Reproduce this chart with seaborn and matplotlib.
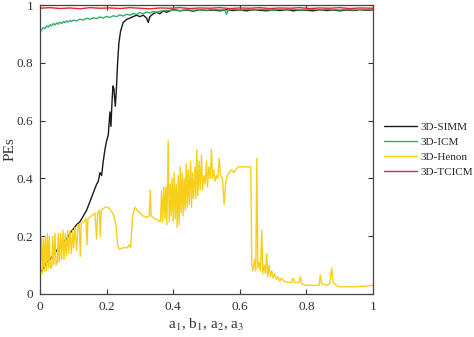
import matplotlib
matplotlib.use("Agg")
import matplotlib.pyplot as plt
import numpy as np
import pandas as pd
import seaborn as sns

# ---- data -------------------------------------------------------------
simm_x = [0.005, 0.01, 0.02, 0.03, 0.04, 0.05, 0.06, 0.065, 0.07, 0.08, 0.09,
          0.10, 0.11, 0.12, 0.13, 0.14, 0.15, 0.16, 0.17, 0.175, 0.18, 0.185,
          0.19, 0.195, 0.20, 0.205, 0.21, 0.213, 0.216, 0.219, 0.222, 0.226,
          0.229, 0.233, 0.237, 0.242, 0.25, 0.26, 0.27, 0.28, 0.29, 0.30, 0.31,
          0.32, 0.325, 0.33, 0.34, 0.35, 0.36, 0.37, 0.38, 0.40, 0.42, 0.44,
          0.46, 0.48, 0.50, 0.52, 0.54, 0.56, 0.58, 0.60, 0.62, 0.64, 0.66,
          0.68, 0.70, 0.72, 0.74, 0.76, 0.78, 0.80, 0.82, 0.84, 0.86, 0.88,
          0.90, 0.92, 0.94, 0.96, 0.98, 1.00]
simm_y = [0.08, 0.09, 0.11, 0.12, 0.135, 0.15, 0.17, 0.16, 0.18, 0.19, 0.21,
          0.225, 0.24, 0.25, 0.27, 0.29, 0.32, 0.35, 0.38, 0.39, 0.42, 0.41,
          0.46, 0.50, 0.53, 0.55, 0.63, 0.58, 0.66, 0.72, 0.71, 0.65,
          0.70, 0.80, 0.87, 0.91, 0.94, 0.95, 0.955, 0.96, 0.965, 0.96, 0.965,
          0.955, 0.94, 0.96, 0.97, 0.975, 0.97, 0.98, 0.975, 0.985, 0.98, 0.983,
          0.979, 0.984, 0.981, 0.983, 0.98, 0.984, 0.981, 0.983, 0.98, 0.984, 0.982,
          0.98, 0.983, 0.981, 0.984, 0.98, 0.983, 0.982, 0.98, 0.984, 0.981, 0.983,
          0.98, 0.983, 0.981, 0.984, 0.982, 0.983]

icm_x = [0.0, 0.005, 0.01, 0.015, 0.02, 0.025, 0.03, 0.035, 0.04, 0.045, 0.05,
         0.055, 0.06, 0.065, 0.07, 0.075, 0.08, 0.085, 0.09, 0.095, 0.10, 0.11,
         0.12, 0.13, 0.14, 0.15, 0.16, 0.17, 0.18, 0.19, 0.20, 0.21, 0.22, 0.23,
         0.24, 0.25, 0.26, 0.27, 0.28, 0.29, 0.30, 0.31, 0.32, 0.33, 0.34, 0.35,
         0.36, 0.38, 0.40, 0.42, 0.44, 0.46, 0.48, 0.50, 0.52, 0.54, 0.555,
         0.56, 0.565, 0.58, 0.60, 0.62, 0.64, 0.66, 0.68, 0.70, 0.72, 0.74,
         0.76, 0.78, 0.80, 0.82, 0.84, 0.86, 0.88, 0.90, 0.92, 0.94, 0.96,
         0.98, 1.00]
icm_y = [0.905, 0.915, 0.922, 0.918, 0.928, 0.924, 0.932, 0.928, 0.936, 0.931, 0.938,
         0.934, 0.941, 0.936, 0.943, 0.939, 0.945, 0.941, 0.947, 0.943, 0.948, 0.945,
         0.951, 0.948, 0.954, 0.951, 0.956, 0.953, 0.959, 0.955, 0.961, 0.957, 0.963, 0.96,
         0.966, 0.962, 0.968, 0.965, 0.971, 0.967, 0.974, 0.97, 0.976, 0.972, 0.978, 0.975,
         0.979, 0.981, 0.983, 0.981, 0.984, 0.982, 0.984, 0.982, 0.985, 0.983, 0.984,
         0.968, 0.983, 0.985, 0.983, 0.985, 0.983, 0.985, 0.984, 0.982, 0.985, 0.983,
         0.985, 0.983, 0.984, 0.985, 0.983, 0.985, 0.984, 0.983, 0.985, 0.983, 0.985,
         0.984, 0.985]

henon_x = [0.000, 0.004, 0.007, 0.010, 0.013, 0.016, 0.019, 0.022, 0.025, 0.028,
           0.031, 0.035, 0.038, 0.041, 0.045, 0.048, 0.052, 0.055, 0.058, 0.062,
           0.065, 0.069, 0.072, 0.076, 0.079, 0.083, 0.086, 0.090, 0.094, 0.098,
           0.101, 0.105, 0.110, 0.114, 0.118, 0.121, 0.124, 0.132, 0.138, 0.141,
           0.144, 0.155, 0.165, 0.170, 0.173, 0.178, 0.181, 0.184, 0.195, 0.205,
           0.215, 0.222, 0.228, 0.233, 0.238, 0.250, 0.262, 0.268, 0.272, 0.278,
           0.285, 0.292, 0.300, 0.310, 0.320, 0.328, 0.331, 0.334, 0.345, 0.355,
           0.362, 0.365, 0.368, 0.372, 0.375, 0.378, 0.381, 0.385, 0.388, 0.391,
           0.394, 0.397, 0.400, 0.403, 0.406, 0.409, 0.412, 0.415, 0.418, 0.421,
           0.424, 0.427, 0.430, 0.433, 0.436, 0.439, 0.442, 0.445, 0.448, 0.452,
           0.455, 0.458, 0.461, 0.465, 0.468, 0.471, 0.474, 0.478, 0.481, 0.485,
           0.488, 0.492, 0.496, 0.500, 0.503, 0.507, 0.511, 0.515, 0.518, 0.522,
           0.526, 0.530, 0.534, 0.538, 0.542, 0.548, 0.553, 0.557, 0.562, 0.568,
           0.575, 0.582, 0.588, 0.595, 0.605, 0.615, 0.625, 0.633, 0.636, 0.640,
           0.644, 0.648, 0.651, 0.654, 0.658, 0.662, 0.666, 0.669, 0.673, 0.677,
           0.681, 0.684, 0.688, 0.692, 0.696, 0.700, 0.705, 0.710, 0.715, 0.720,
           0.726, 0.732, 0.740, 0.748, 0.755, 0.760, 0.765, 0.772, 0.778, 0.782,
           0.786, 0.800, 0.820, 0.838, 0.842, 0.846, 0.860, 0.870, 0.876, 0.880,
           0.890, 0.900, 0.950, 1.000]
henon_y = [0.07, 0.20, 0.07, 0.19, 0.08, 0.20, 0.08, 0.21, 0.09, 0.20,
           0.09, 0.09, 0.20, 0.10, 0.21, 0.10, 0.11, 0.21, 0.11, 0.21,
           0.12, 0.22, 0.12, 0.21, 0.13, 0.22, 0.14, 0.22, 0.14, 0.22,
           0.16, 0.23, 0.15, 0.24, 0.24, 0.13, 0.245, 0.25, 0.26, 0.17,
           0.26, 0.27, 0.28, 0.19, 0.28, 0.29, 0.20, 0.29, 0.30, 0.30,
           0.285, 0.27, 0.24, 0.17, 0.155, 0.16, 0.16, 0.17, 0.16, 0.27,
           0.30, 0.29, 0.28, 0.27, 0.265, 0.27, 0.36, 0.27, 0.26, 0.255,
           0.25, 0.36, 0.25, 0.37, 0.26, 0.37, 0.24, 0.53, 0.25, 0.38,
           0.27, 0.40, 0.25, 0.42, 0.26, 0.38, 0.23, 0.41, 0.24, 0.44,
           0.28, 0.42, 0.27, 0.40, 0.29, 0.45, 0.30, 0.43, 0.31, 0.46,
           0.30, 0.42, 0.33, 0.44, 0.33, 0.50, 0.34, 0.46, 0.36, 0.48,
           0.36, 0.41, 0.38, 0.46, 0.37, 0.44, 0.40, 0.50, 0.40, 0.43,
           0.39, 0.41, 0.40, 0.47, 0.41, 0.40, 0.31, 0.38, 0.41, 0.42,
           0.43, 0.42, 0.43, 0.44, 0.44, 0.44, 0.44, 0.44, 0.10, 0.08,
           0.12, 0.08, 0.47, 0.09, 0.11, 0.08, 0.22, 0.07, 0.10, 0.07,
           0.14, 0.06, 0.10, 0.06, 0.08, 0.055, 0.07, 0.05, 0.06, 0.045,
           0.055, 0.045, 0.04, 0.04, 0.04, 0.055, 0.04, 0.04, 0.04, 0.06,
           0.035, 0.03, 0.03, 0.03, 0.065, 0.035, 0.03, 0.035, 0.09, 0.04,
           0.03, 0.025, 0.025, 0.03]

tcicm_x = [0.0, 0.03, 0.06, 0.09, 0.12, 0.15, 0.18, 0.21, 0.24, 0.27, 0.30,
           0.33, 0.36, 0.39, 0.42, 0.45, 0.48, 0.51, 0.54, 0.57, 0.60, 0.63,
           0.66, 0.69, 0.72, 0.75, 0.78, 0.81, 0.84, 0.87, 0.90, 0.93, 0.96,
           1.00]
tcicm_y = [0.989, 0.991, 0.988, 0.990, 0.987, 0.991, 0.989, 0.990, 0.988, 0.991, 0.989,
           0.987, 0.990, 0.989, 0.991, 0.988, 0.990, 0.989, 0.991, 0.988, 0.990, 0.989,
           0.991, 0.988, 0.990, 0.989, 0.991, 0.988, 0.990, 0.989, 0.991, 0.988, 0.990,
           0.989]

series_names = ["3D-SIMM", "3D-ICM", "3D-Henon", "3D-TCICM"]
series_colors = ["#1a1a1a", "#2fae6a", "#f7cf1a", "#e8262e"]
series_data = [(simm_x, simm_y), (icm_x, icm_y), (henon_x, henon_y), (tcicm_x, tcicm_y)]

ticks = [0, 0.2, 0.4, 0.6, 0.8, 1]
tick_labels = ["0", "0.2", "0.4", "0.6", "0.8", "1"]

# ---- style ------------------------------------------------------------
sns.set_style("ticks")
plt.rcParams["font.family"] = ["Liberation Serif", "DejaVu Serif"]
plt.rcParams["mathtext.fontset"] = "stix"

frames = []
for name, (xs, ys) in zip(series_names, series_data):
    frames.append(pd.DataFrame({"x": xs, "PEs": ys, "series": name}))
df = pd.concat(frames, ignore_index=True)

fig = plt.figure(figsize=(4.74, 3.37), dpi=100)
ax = fig.add_axes([0.0844, 0.1276, 0.7025, 0.8574])

sns.lineplot(data=df, x="x", y="PEs", hue="series", hue_order=series_names,
             palette=dict(zip(series_names, series_colors)), estimator=None,
             sort=False, linewidth=1.0, ax=ax)

ax.set_xlim(0, 1)
ax.set_ylim(0, 1)
ax.set_xticks(ticks)
ax.set_xticklabels(tick_labels)
ax.set_yticks(ticks)
ax.set_yticklabels(tick_labels)
ax.tick_params(direction="in", top=True, right=True, length=3.5, width=0.8,
               labelsize=9.5, colors="#333333", pad=5)
for s in ax.spines.values():
    s.set_visible(True)
    s.set_color("#444444")
    s.set_linewidth(0.9)

ax.set_xlabel(r"a$_1$, b$_1$, a$_2$, a$_3$", fontsize=11, color="#333333", labelpad=3)
ax.set_ylabel("PEs", fontsize=11, color="#333333", va="center")
ax.yaxis.set_label_coords(-0.09, 0.5)

ax.legend(loc="center left", bbox_to_anchor=(1.02, 0.50), frameon=False,
          fontsize=8, handlelength=3.0, handletextpad=0.3, labelspacing=0.45,
          borderaxespad=0)

fig.savefig("out.png", dpi=100)
